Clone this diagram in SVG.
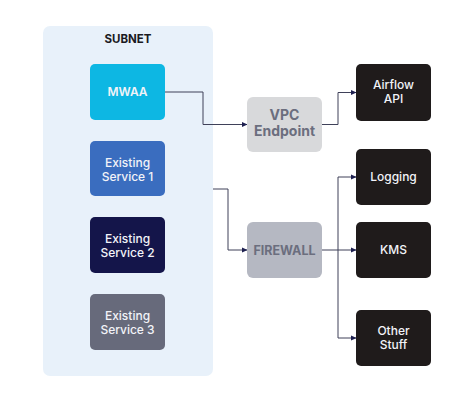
<svg xmlns="http://www.w3.org/2000/svg" width="474" height="402" viewBox="0 0 474 402">
<style>
.t{font-family:Inter,"Noto Sans","Liberation Sans",sans-serif;text-anchor:middle}
.w{fill:#f2f3f8;font-size:12px;font-weight:500}
.g{fill:#6b6e7e;font-size:14px;font-weight:700}
.f{font-size:12.5px}
.b{font-weight:600}
.c{fill:none;stroke:#3f4159;stroke-width:1}
</style>
<defs>
<marker id="ah" markerWidth="6" markerHeight="6" refX="5" refY="3" orient="auto" markerUnits="userSpaceOnUse">
<path d="M0,0.5 L5.5,3 L0,5.5 Z" fill="#1e2050"/>
</marker>
</defs>
<rect width="474" height="402" fill="#ffffff"/>
<g id="subnet">
<rect x="43" y="26" width="170" height="350" rx="7" fill="#e8f1fa"/>
<text class="t" x="128" y="43" font-size="11.5" font-weight="700" fill="#1a1a22">SUBNET</text>
</g>
<g id="connectors">
<path class="c" d="M165,92 H203 V124.5 H247" marker-end="url(#ah)"/>
<path class="c" d="M322,124.5 H338 V92.5 H356" marker-end="url(#ah)"/>
<path class="c" d="M213,189 H228 V250 H247" marker-end="url(#ah)"/>
<path class="c" d="M322,250 H356" marker-end="url(#ah)"/>
<path class="c" d="M338,250 V177 H356" marker-end="url(#ah)"/>
<path class="c" d="M338,250 V338 H356" marker-end="url(#ah)"/>
</g>
<g id="mwaa">
<rect x="90" y="64" width="75" height="56" rx="5" fill="#0db7e3"/>
<text class="t w b" x="127.5" y="96">MWAA</text>
</g>
<g id="service1">
<rect x="90" y="141" width="75" height="55" rx="5" fill="#3a6dbf"/>
<text class="t w" x="127.5" y="167">Existing</text>
<text class="t w" x="127.5" y="181">Service 1</text>
</g>
<g id="service2">
<rect x="90" y="217" width="75" height="56" rx="5" fill="#14154a"/>
<text class="t w" x="127.5" y="243">Existing</text>
<text class="t w" x="127.5" y="257">Service 2</text>
</g>
<g id="service3">
<rect x="90" y="294" width="75" height="56" rx="5" fill="#676a7b"/>
<text class="t w" x="127.5" y="320">Existing</text>
<text class="t w" x="127.5" y="334">Service 3</text>
</g>
<g id="vpc">
<rect x="247" y="97" width="75" height="55" rx="6" fill="#d8d9db"/>
<text class="t g" x="284.5" y="120">VPC</text>
<text class="t g" x="284.5" y="136">Endpoint</text>
</g>
<g id="firewall">
<rect x="247" y="222" width="75" height="56" rx="6" fill="#b5b8c2"/>
<text class="t g f" x="284.5" y="254.5">FIREWALL</text>
</g>
<g id="airflow">
<rect x="356" y="64" width="75" height="57" rx="5" fill="#1f1b1b"/>
<text class="t w" x="393.5" y="89">Airflow</text>
<text class="t w" x="393.5" y="103">API</text>
</g>
<g id="logging">
<rect x="356" y="149" width="75" height="56" rx="5" fill="#1f1b1b"/>
<text class="t w" x="393.5" y="181">Logging</text>
</g>
<g id="kms">
<rect x="356" y="222" width="75" height="56" rx="5" fill="#1f1b1b"/>
<text class="t w" x="393.5" y="254">KMS</text>
</g>
<g id="other">
<rect x="356" y="310" width="75" height="56" rx="5" fill="#1f1b1b"/>
<text class="t w" x="393.5" y="335">Other</text>
<text class="t w" x="393.5" y="349">Stuff</text>
</g>
</svg>
